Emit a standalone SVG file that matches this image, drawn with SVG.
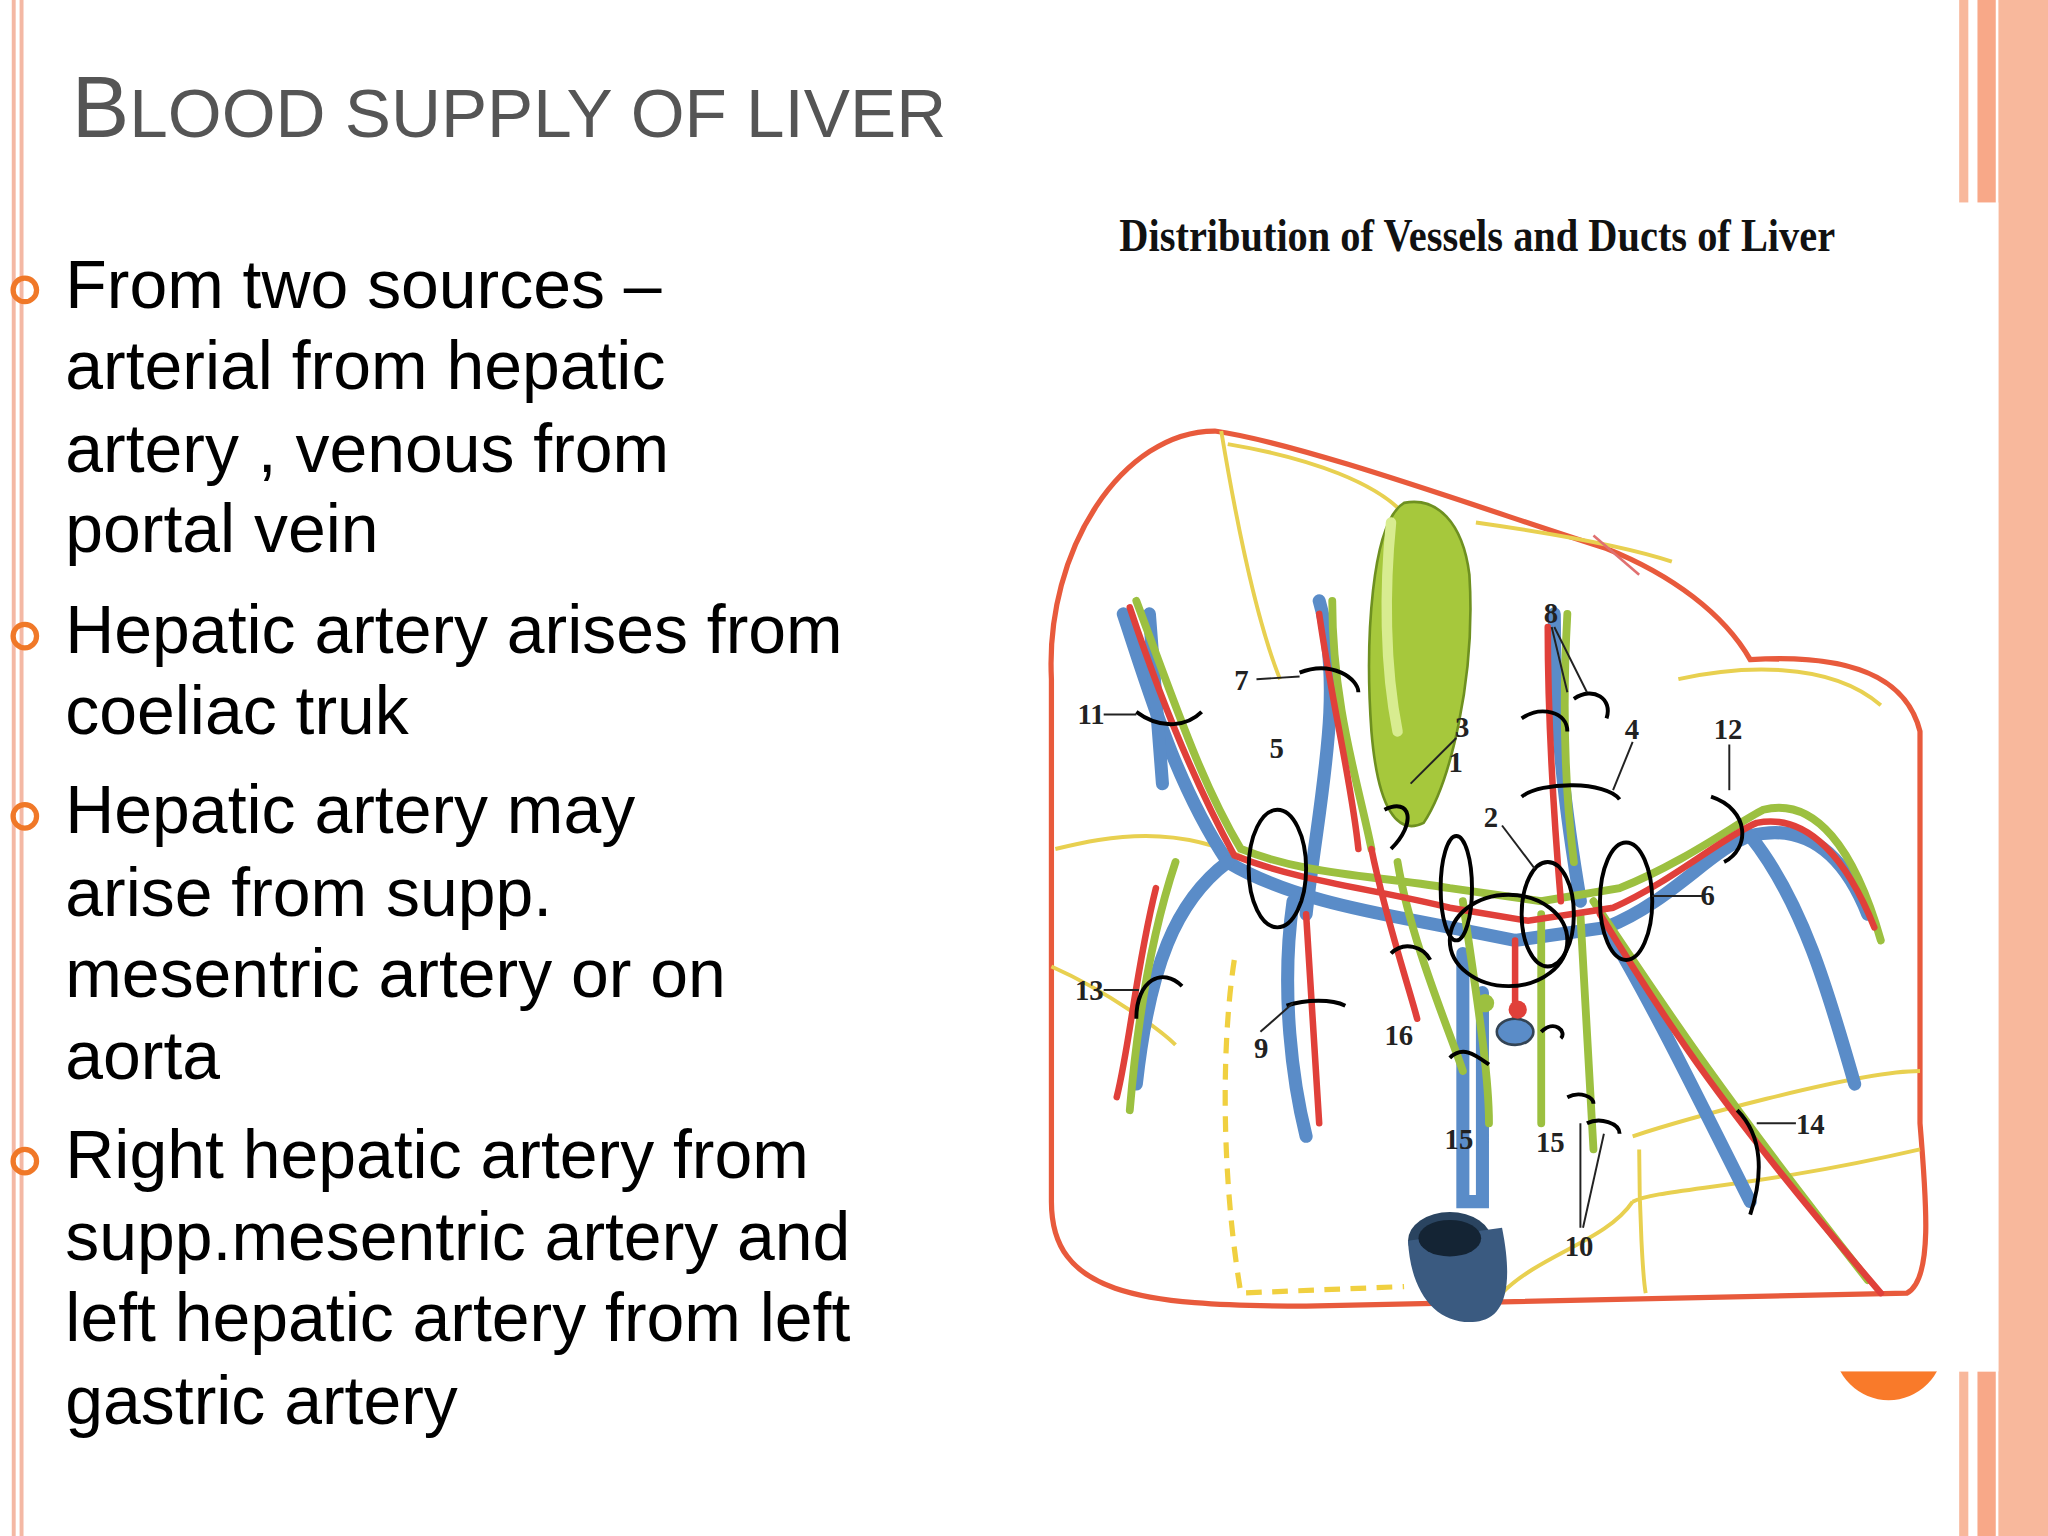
<svg xmlns="http://www.w3.org/2000/svg" width="2048" height="1536" viewBox="0 0 2048 1536">
<style>
.t{font-family:"Liberation Sans",Arial,sans-serif;fill:#000;font-size:52px}
.n{font-family:"Liberation Serif",serif;font-size:22px;font-weight:bold;fill:#222}
.bl{fill:none;stroke:#5a8cc8;stroke-width:10;stroke-linecap:round}
.rd{fill:none;stroke:#e0403a;stroke-width:5;stroke-linecap:round}
.gr{fill:none;stroke:#9cc040;stroke-width:6;stroke-linecap:round}
.lp{fill:none;stroke:#000;stroke-width:3}
.ld{fill:none;stroke:#222;stroke-width:1.5}
</style>
<rect width="2048" height="1536" fill="#fff"/>
<g transform="scale(1.30612)">
<g id="frame">
<rect x="9" y="0" width="3" height="1176" fill="#f4b8a4"/>
<rect x="15" y="0" width="3" height="1176" fill="#f4b8a4"/>
<rect x="1500" y="0" width="7" height="156" fill="#f8b89c"/>
<rect x="1514" y="0" width="14" height="156" fill="#f8a888"/>
<rect x="1530" y="0" width="38" height="1176" fill="#f8b89c"/>
<rect x="1500" y="1050" width="7" height="126" fill="#f8b89c"/>
<rect x="1514" y="1050" width="14" height="126" fill="#f8a888"/>
<circle cx="1446" cy="1030" r="42" fill="#f97a2a"/>
</g>
<g id="title">
<text x="55" y="105" font-family="Liberation Sans,Arial,sans-serif" fill="#555" font-size="66">B<tspan font-size="53">LOOD SUPPLY OF LIVER</tspan></text>
</g>
<g id="bullets">
<g fill="none" stroke="#f07828" stroke-width="4">
<circle cx="19" cy="222" r="9"/><circle cx="19" cy="487" r="9"/><circle cx="19" cy="625" r="9"/><circle cx="19" cy="889" r="9"/>
</g>
<text class="t" x="50" y="236">From two sources –</text>
<text class="t" x="50" y="298">arterial from hepatic</text>
<text class="t" x="50" y="361">artery , venous from</text>
<text class="t" x="50" y="423">portal vein</text>
<text class="t" x="50" y="500">Hepatic artery arises from</text>
<text class="t" x="50" y="562">coeliac truk</text>
<text class="t" x="50" y="638">Hepatic artery may</text>
<text class="t" x="50" y="701">arise from supp.</text>
<text class="t" x="50" y="763">mesentric artery or on</text>
<text class="t" x="50" y="826">aorta</text>
<text class="t" x="50" y="902">Right hepatic artery from</text>
<text class="t" x="50" y="965">supp.mesentric artery and</text>
<text class="t" x="50" y="1027">left hepatic artery from left</text>
<text class="t" x="50" y="1090">gastric artery</text>
</g>
<g id="image">
<rect x="780" y="155" width="750" height="895" fill="#fff"/>
<text x="857" y="192" font-family="Liberation Serif,serif" font-weight="bold" font-size="36" fill="#111" textLength="548" lengthAdjust="spacingAndGlyphs">Distribution of Vessels and Ducts of Liver</text>
<path d="M930,330 C860,330 800,420 805,520 L805,920 C805,990 870,1000 1000,1000 L1460,990 C1480,980 1475,920 1470,860 L1470,560 C1460,520 1420,500 1340,505 C1320,470 1280,440 1230,420 C1150,395 1000,340 930,330 Z" fill="none" stroke="#e85a3c" stroke-width="4"/>
<path d="M935,330 C945,390 960,470 980,520 M940,340 C1000,350 1060,370 1080,400 M1130,400 C1200,410 1250,420 1280,430 M1285,520 C1330,510 1400,505 1440,540 M808,650 C850,640 900,630 960,660 M805,740 C850,760 890,790 900,800 M1250,870 C1280,860 1420,820 1470,820 M1250,920 C1270,910 1340,910 1470,880 M1255,880 C1255,930 1258,980 1260,990 M1150,990 C1180,960 1230,950 1250,920" fill="none" stroke="#e8d050" stroke-width="3"/>
<path d="M945,735 C935,800 935,900 950,990 L1075,985" fill="none" stroke="#f0d040" stroke-width="4" stroke-dasharray="12,8"/>
<path d="M1220,410 L1255,440" stroke="#e07070" stroke-width="2"/>
<g>
<path class="bl" d="M860,470 C880,530 900,600 940,660 C990,690 1060,700 1110,710 L1160,720 L1230,710 C1280,690 1310,650 1340,640 C1380,630 1410,650 1430,700"/>
<path class="bl" d="M880,470 L890,600 M940,660 C900,690 880,740 870,830 M990,690 C980,760 990,830 1000,870 M1000,700 C1010,610 1030,530 1010,460 M1190,470 C1190,560 1200,630 1210,690 M1230,710 C1260,760 1290,820 1340,920 M1340,640 C1380,690 1400,760 1420,830 M1120,730 L1120,920 L1135,920 L1135,760"/>
<path class="gr" d="M870,460 C900,540 920,600 950,650 C1000,670 1050,670 1110,680 L1180,690 L1240,680 C1290,660 1330,630 1350,620 C1390,610 1420,650 1440,720 M1020,460 C1020,540 1040,600 1050,650 M1200,470 C1195,560 1200,620 1205,660 M1220,690 C1280,780 1320,840 1430,980 M1120,690 C1130,760 1140,820 1140,860 M1180,700 L1180,860 M1210,700 L1220,880 M900,660 C880,720 870,790 865,850 M1070,660 C1080,720 1110,790 1120,820"/>
<path class="rd" d="M865,465 C890,540 915,600 945,655 C995,675 1050,680 1110,695 L1170,705 L1235,695 C1280,675 1320,640 1345,630 C1385,622 1415,660 1435,710 M1010,470 C1020,540 1035,600 1040,650 M1185,480 C1185,560 1190,630 1195,690 M1225,700 C1280,790 1320,850 1440,990 M1160,720 L1160,780 M1050,650 C1060,700 1080,760 1085,780 M1000,700 L1010,860 M885,680 C870,740 865,800 855,840"/>
<path d="M1075,385 C1100,380 1120,400 1125,440 C1130,520 1110,600 1090,630 C1070,640 1055,620 1050,560 C1045,490 1050,400 1075,385 Z" fill="#a6c83c" stroke="#6e9020" stroke-width="2"/>
<path d="M1065,400 C1060,450 1060,510 1070,560" fill="none" stroke="#d8ec90" stroke-width="8" stroke-linecap="round"/>
<ellipse cx="1110" cy="950" rx="32" ry="22" fill="#2a4460"/>
<path d="M1078,950 C1080,990 1100,1015 1130,1012 C1150,1010 1160,990 1150,940" fill="#3a5a80"/>
<ellipse cx="1110" cy="948" rx="24" ry="14" fill="#142434"/>
<ellipse cx="1160" cy="790" rx="14" ry="10" fill="#5a8cc8" stroke="#345" stroke-width="2"/>
<circle cx="1162" cy="773" r="7" fill="#e0403a"/><circle cx="1137" cy="768" r="7" fill="#9cc040"/>
</g>
<g>
<ellipse class="lp" cx="978" cy="665" rx="22" ry="45"/>
<ellipse class="lp" cx="1185" cy="700" rx="20" ry="40"/>
<ellipse class="lp" cx="1245" cy="690" rx="20" ry="45"/>
<ellipse class="lp" cx="1155" cy="720" rx="45" ry="35"/>
<ellipse class="lp" cx="1115" cy="680" rx="12" ry="40"/>
<path class="lp" d="M870,545 C890,560 910,555 920,545 M995,515 C1020,505 1040,520 1040,530 M1165,550 C1180,540 1200,545 1200,560 M1205,535 C1220,525 1235,535 1230,550 M1165,610 C1180,598 1230,598 1240,612 M1310,610 C1340,620 1340,650 1320,660 M870,780 C870,750 890,740 905,755 M985,770 C1000,765 1020,765 1030,770 M1060,620 C1080,610 1085,630 1065,650 M1065,730 C1075,720 1090,725 1095,735 M1110,810 C1120,800 1130,808 1140,815 M1180,790 C1190,780 1200,790 1195,795 M1200,840 C1210,835 1220,840 1220,845 M1215,860 C1225,855 1240,860 1240,868 M1330,850 C1350,870 1350,900 1340,930"/>
<g class="ld">
<line x1="845" y1="547" x2="870" y2="547"/><line x1="962" y1="520" x2="995" y2="518"/><line x1="1115" y1="565" x2="1080" y2="600"/><line x1="1188" y1="480" x2="1200" y2="530"/><line x1="1190" y1="480" x2="1215" y2="530"/><line x1="1250" y1="568" x2="1235" y2="605"/><line x1="1150" y1="632" x2="1175" y2="665"/><line x1="1305" y1="686" x2="1265" y2="686"/><line x1="1324" y1="570" x2="1324" y2="605"/><line x1="845" y1="758" x2="872" y2="758"/><line x1="1375" y1="860" x2="1345" y2="860"/><line x1="965" y1="790" x2="990" y2="768"/><line x1="1210" y1="940" x2="1210" y2="860"/><line x1="1212" y1="940" x2="1228" y2="868"/>
</g>
<text class="n" x="825" y="554">11</text><text class="n" x="945" y="528">7</text><text class="n" x="972" y="580">5</text>
<text class="n" x="1114" y="564">3</text><text class="n" x="1109" y="591">1</text><text class="n" x="1182" y="477">8</text>
<text class="n" x="1244" y="566">4</text><text class="n" x="1136" y="633">2</text><text class="n" x="1312" y="566">12</text>
<text class="n" x="1302" y="693">6</text><text class="n" x="823" y="766">13</text><text class="n" x="960" y="810">9</text>
<text class="n" x="1060" y="800">16</text><text class="n" x="1106" y="880">15</text><text class="n" x="1176" y="882">15</text>
<text class="n" x="1375" y="868">14</text><text class="n" x="1198" y="962">10</text>
</g>
</g>
</g>
</svg>
